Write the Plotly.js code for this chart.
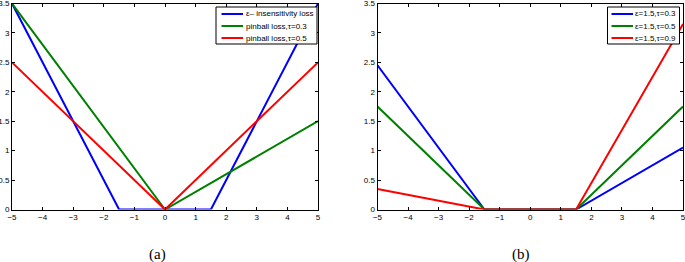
<!DOCTYPE html>
<html>
<head>
<meta charset="utf-8">
<script src="https://cdn.plot.ly/plotly-3.0.1.min.js"></script>
<style>html,body{margin:0;padding:0;background:#fff;}#chart{width:685px;height:262px;}</style>
</head>
<body>
<div id="chart"></div>
<script>
// Panel (a)
const xEps = [-5, -1.5, 1.5, 5];
const epsLoss = [3.5, 0, 0, 3.5];
const xPin = [-5, 0, 5];
const pin03 = [3.5, 0, 1.5];
const pin05 = [2.5, 0, 2.5];
const namesA = ["ε– insensitivity loss", "pinball loss,τ=0.3", "pinball loss,τ=0.5"];

// Panel (b)
const xB = [-5, -1.5, 1.5, 5];
const b03 = [2.45, 0, 0, 1.05];
const b05 = [1.75, 0, 0, 1.75];
const b09 = [0.35, 0, 0, 3.15];
const namesB = ["ε=1.5,τ=0.3", "ε=1.5,τ=0.5", "ε=1.5,τ=0.9"];

const xTicks = [-5, -4, -3, -2, -1, 0, 1, 2, 3, 4, 5];
const yTicks = [0, 0.5, 1, 1.5, 2, 2.5, 3, 3.5];
const captions = ["(a)", "(b)"];

const colors = ["#0000ff", "#008000", "#ff0000"];
const lw = 2;

const traces = [
  {x: xEps, y: epsLoss, name: namesA[0], line: {color: colors[0], width: lw}, xaxis: 'x', yaxis: 'y'},
  {x: xPin, y: pin03, name: namesA[1], line: {color: colors[1], width: lw}, xaxis: 'x', yaxis: 'y'},
  {x: xPin, y: pin05, name: namesA[2], line: {color: colors[2], width: lw}, xaxis: 'x', yaxis: 'y'},
  {x: xB, y: b03, name: namesB[0], line: {color: colors[0], width: lw}, xaxis: 'x2', yaxis: 'y2'},
  {x: xB, y: b05, name: namesB[1], line: {color: colors[1], width: lw}, xaxis: 'x2', yaxis: 'y2'},
  {x: xB, y: b09, name: namesB[2], line: {color: colors[2], width: lw}, xaxis: 'x2', yaxis: 'y2'}
].map(t => Object.assign({type: 'scatter', mode: 'lines', showlegend: false}, t));

const W = 685, H = 262;
const tickFont = {family: 'Liberation Sans, Arial, sans-serif', size: 8, color: '#000'};
function xax(domain) {
  return {domain: domain, range: [-5, 5], tickvals: xTicks, ticks: 'inside', ticklen: 3, tickcolor: '#000',
    showline: true, linecolor: '#000', linewidth: 1, mirror: 'ticks', showgrid: false, zeroline: false,
    tickfont: tickFont, fixedrange: true, ticklabeloverflow: 'allow', ticklabelstandoff: 0};
}
function yax(anchor) {
  return {domain: [(H - 209.5) / H, (H - 3.5) / H], range: [0, 3.5], tickvals: yTicks, ticks: 'inside', ticklen: 3,
    tickcolor: '#000', showline: true, linecolor: '#000', linewidth: 1, mirror: 'ticks', showgrid: false,
    zeroline: false, tickfont: tickFont, anchor: anchor, fixedrange: true, ticklabelstandoff: 0,
    ticklabeloverflow: 'allow'};
}

// Hand-built legends (MATLAB-style compact boxes), pixel geometry converted to paper coordinates
const px = v => v / W, py = v => (H - v) / H;
const shapes = [], annotations = [];
function addLegend(box, names, textX, lineX0, lineX1, rowsY) {
  shapes.push({type: 'rect', xref: 'paper', yref: 'paper', x0: px(box[0]), x1: px(box[1]), y0: py(box[3]), y1: py(box[2]),
    line: {color: '#000', width: 1}, fillcolor: '#fff', layer: 'above'});
  names.forEach((n, i) => {
    shapes.push({type: 'line', xref: 'paper', yref: 'paper', x0: px(lineX0), x1: px(lineX1), y0: py(rowsY[i]), y1: py(rowsY[i]),
      line: {color: colors[i], width: lw}, layer: 'above'});
    annotations.push({text: n, xref: 'paper', yref: 'paper', x: px(textX), y: py(rowsY[i]), xanchor: 'left', yanchor: 'middle',
      showarrow: false, font: {family: 'Liberation Sans, Arial, sans-serif', size: 8, color: '#000'}});
  });
}
addLegend([216, 317, 7, 44], namesA, 243.5, 221.5, 243, [14, 26, 38]);
addLegend([607.5, 679.5, 7, 44], namesB, 632.5, 611.5, 633, [14, 26, 38]);

captions.forEach((c, i) => annotations.push({text: c, x: px([157.5, 521][i]), y: py(254), xref: 'paper', yref: 'paper',
  xanchor: 'center', yanchor: 'middle', showarrow: false,
  font: {family: 'Liberation Serif, DejaVu Serif, serif', size: 15, color: '#000'}}));

const layout = {
  width: W, height: H,
  margin: {l: 0, r: 0, t: 0, b: 0},
  paper_bgcolor: '#fff', plot_bgcolor: '#fff',
  showlegend: false,
  xaxis: Object.assign(xax([12 / W, 318 / W]), {anchor: 'y'}),
  yaxis: yax('x'),
  xaxis2: Object.assign(xax([377.5 / W, 683 / W]), {anchor: 'y2'}),
  yaxis2: yax('x2'),
  shapes: shapes,
  annotations: annotations
};

Plotly.newPlot('chart', traces, layout, {staticPlot: true, displayModeBar: false});
</script>
</body>
</html>
